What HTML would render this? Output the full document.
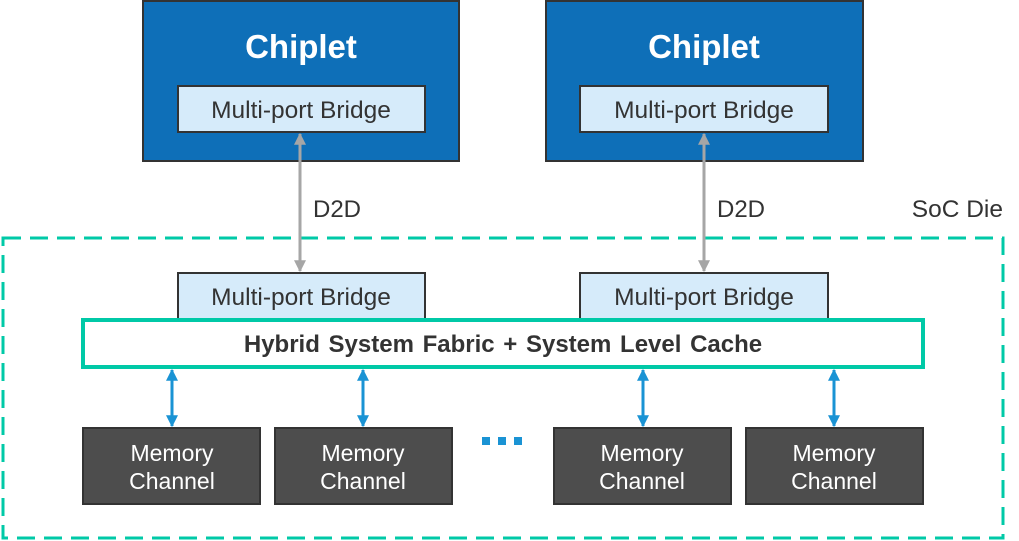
<!DOCTYPE html>
<html><head><meta charset="utf-8"><style>
html,body{margin:0;padding:0;background:#fff;}
svg{display:block;font-family:"Liberation Sans",Arial,sans-serif;}
</style></head><body>
<svg width="1019" height="541" viewBox="0 0 1019 541" xmlns="http://www.w3.org/2000/svg">
<defs>
<marker id="ga" viewBox="0 0 10 10" refX="9" refY="5" markerWidth="4" markerHeight="4" orient="auto-start-reverse"><path d="M0,0 L10,5 L0,10 z" fill="#a6a6a6"/></marker>
<marker id="ba" viewBox="0 0 10 10" refX="9" refY="5" markerWidth="4" markerHeight="4" orient="auto-start-reverse"><path d="M0,0 L10,5 L0,10 z" fill="#1a93d4"/></marker>
</defs>
<rect x="3" y="238" width="1000" height="300" fill="none" stroke="#00c9a7" stroke-width="3" stroke-dasharray="18,9"/>
<text x="1003" y="217" font-size="24.5" fill="#333" text-anchor="end">SoC Die</text>
<rect x="143" y="1" width="316" height="160" fill="#0e6fb8" stroke="#333" stroke-width="2"/>
<text x="301" y="58" font-size="33" font-weight="bold" fill="#fff" text-anchor="middle">Chiplet</text>
<rect x="178" y="86" width="247" height="46" fill="#d6ebfa" stroke="#333" stroke-width="2"/>
<text x="301" y="118" font-size="24.5" fill="#333" text-anchor="middle">Multi-port Bridge</text>
<rect x="546" y="1" width="317" height="160" fill="#0e6fb8" stroke="#333" stroke-width="2"/>
<text x="704" y="58" font-size="33" font-weight="bold" fill="#fff" text-anchor="middle">Chiplet</text>
<rect x="580" y="86" width="248" height="46" fill="#d6ebfa" stroke="#333" stroke-width="2"/>
<text x="704" y="118" font-size="24.5" fill="#333" text-anchor="middle">Multi-port Bridge</text>
<line x1="300" y1="134" x2="300" y2="271" stroke="#a6a6a6" stroke-width="3" marker-start="url(#ga)" marker-end="url(#ga)"/>
<text x="313" y="217" font-size="24" fill="#333">D2D</text>
<line x1="704" y1="134" x2="704" y2="271" stroke="#a6a6a6" stroke-width="3" marker-start="url(#ga)" marker-end="url(#ga)"/>
<text x="717" y="217" font-size="24" fill="#333">D2D</text>
<rect x="178" y="273" width="247" height="48" fill="#d6ebfa" stroke="#333" stroke-width="2"/>
<text x="301" y="305" font-size="24.5" fill="#333" text-anchor="middle">Multi-port Bridge</text>
<rect x="580" y="273" width="248" height="48" fill="#d6ebfa" stroke="#333" stroke-width="2"/>
<text x="704" y="305" font-size="24.5" fill="#333" text-anchor="middle">Multi-port Bridge</text>
<rect x="83" y="320" width="840" height="47" fill="#fff" stroke="#00c9a7" stroke-width="4"/>
<text x="503" y="352" font-size="24" font-weight="bold" fill="#333" text-anchor="middle" word-spacing="2">Hybrid System Fabric + System Level Cache</text>
<g stroke="#1a93d4" stroke-width="3">
<line x1="172" y1="370" x2="172" y2="426" marker-start="url(#ba)" marker-end="url(#ba)"/>
<line x1="363" y1="370" x2="363" y2="426" marker-start="url(#ba)" marker-end="url(#ba)"/>
<line x1="643" y1="370" x2="643" y2="426" marker-start="url(#ba)" marker-end="url(#ba)"/>
<line x1="834" y1="370" x2="834" y2="426" marker-start="url(#ba)" marker-end="url(#ba)"/>
</g>
<g fill="#4d4d4d" stroke="#333" stroke-width="2">
<rect x="83" y="428" width="177" height="76"/>
<rect x="275" y="428" width="177" height="76"/>
<rect x="554" y="428" width="177" height="76"/>
<rect x="746" y="428" width="177" height="76"/>
</g>
<g font-size="23" fill="#fff" text-anchor="middle">
<text x="172" y="461">Memory</text><text x="172" y="489">Channel</text>
<text x="363" y="461">Memory</text><text x="363" y="489">Channel</text>
<text x="642" y="461">Memory</text><text x="642" y="489">Channel</text>
<text x="834" y="461">Memory</text><text x="834" y="489">Channel</text>
</g>
<g fill="#1a93d4">
<rect x="482" y="437" width="8" height="8"/><rect x="498" y="437" width="8" height="8"/><rect x="514" y="437" width="8" height="8"/>
</g>
</svg>
</body></html>
